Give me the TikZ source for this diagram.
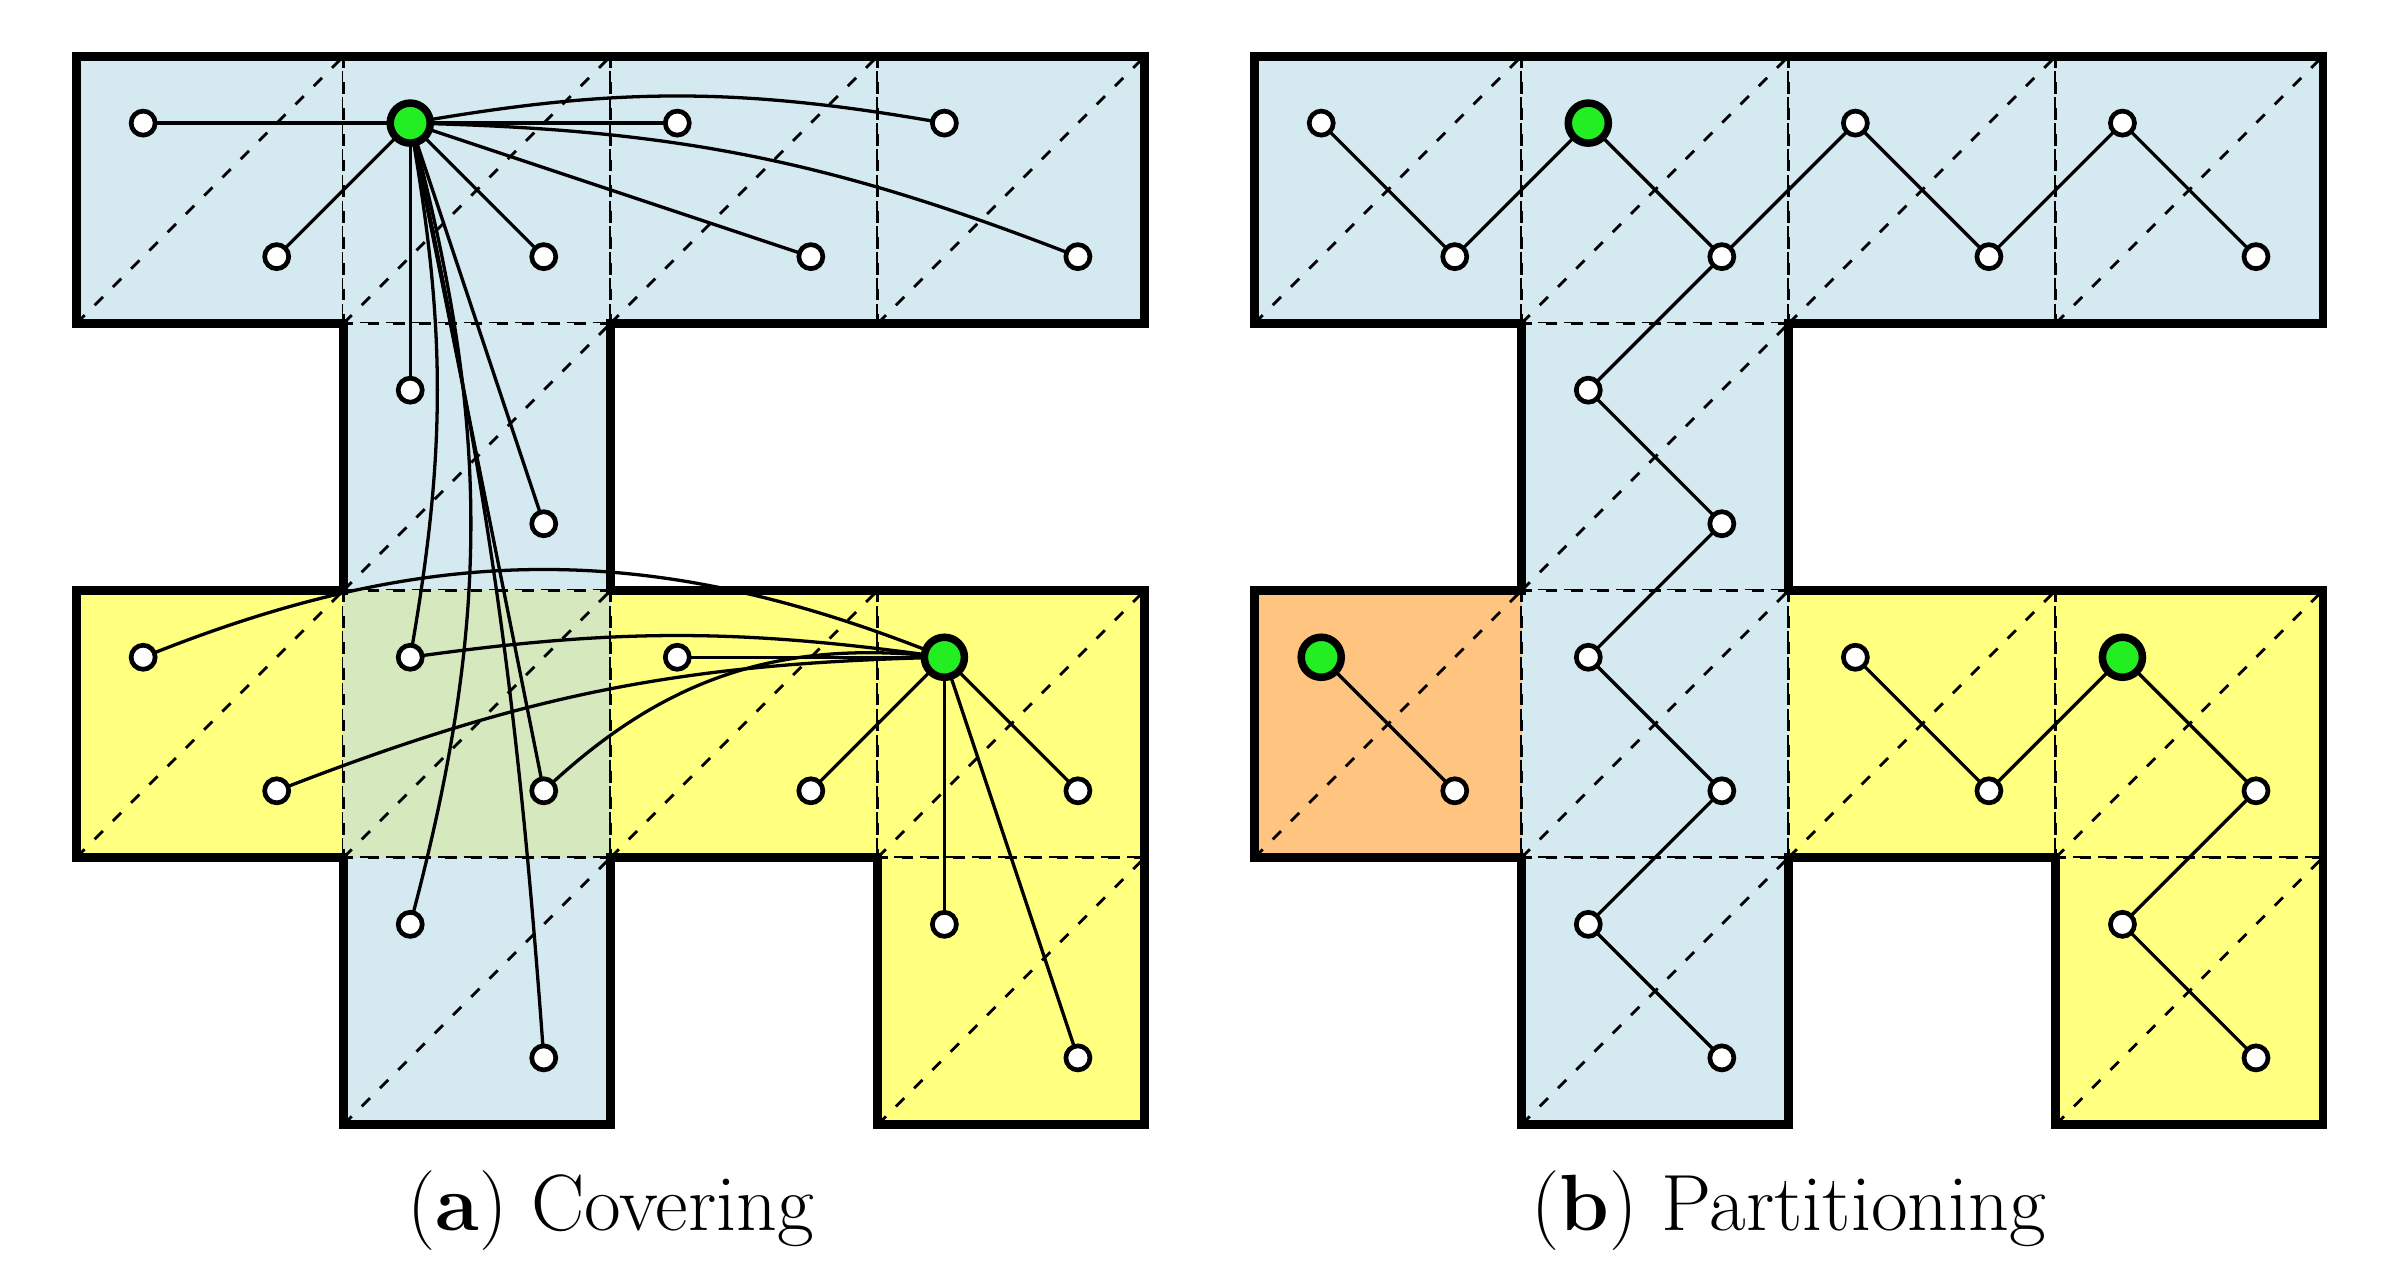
\documentclass[tikz,border=0pt]{standalone}
\usepackage{fontspec}
\begin{document}
\definecolor{cblue}{HTML}{D5EAF0}
\definecolor{cyel}{HTML}{FFFF80}
\definecolor{cmix}{HTML}{D5E8BE}
\definecolor{corg}{HTML}{FFC47F}
\definecolor{cgreen}{HTML}{22EE22}
\begin{tikzpicture}[x=2cm,y=2cm,
  cell/.style={draw=black,dash pattern=on 2.5pt off 3pt,line width=0.6pt},
  outline/.style={draw=black,line width=1.8pt,line join=miter},
  dot/.style={circle,draw=black,fill=white,line width=1pt,inner sep=0pt,minimum size=0.18cm},
  src/.style={circle,draw=black,fill=cgreen,line width=1.6pt,inner sep=0pt,minimum size=0.3cm},
  edge/.style={line width=0.7pt},
  captxt/.style={font=\fontsize{17}{20}\selectfont}]
\useasboundingbox (-0.286,0.211) rectangle (8.674,-4.584);
% cells: #1 x offset, #2 col, #3 row, #4 colour
\newcommand{\gcell}[4]{%
  \fill[#4] (#1+#2,-#3) rectangle (#1+#2+1,-#3-1);
  \draw[cell] (#1+#2,-#3) rectangle (#1+#2+1,-#3-1);
  \draw[cell] (#1+#2,-#3-1) -- (#1+#2+1,-#3);}
\newcommand{\outl}[1]{%
  \draw[outline,shift={(#1,0)}] (0,0)--(4,0)--(4,-1)--(2,-1)--(2,-2)--(4,-2)--(4,-4)--(3,-4)--(3,-3)--(2,-3)--(2,-4)--(1,-4)--(1,-3)--(0,-3)--(0,-2)--(1,-2)--(1,-1)--(0,-1)--cycle;}
% ---- (a) covering
\foreach \c/\r/\k in {0/0/cblue,1/0/cblue,2/0/cblue,3/0/cblue,1/1/cblue,0/2/cyel,1/2/cmix,2/2/cyel,3/2/cyel,1/3/cblue,3/3/cyel}
  {\gcell{0}{\c}{\r}{\k}}
\outl{0}
% ---- (b) partitioning
\foreach \c/\r/\k in {0/0/cblue,1/0/cblue,2/0/cblue,3/0/cblue,1/1/cblue,0/2/corg,1/2/cblue,2/2/cyel,3/2/cyel,1/3/cblue,3/3/cyel}
  {\gcell{4.411}{\c}{\r}{\k}}
\outl{4.411}
% coordinates of dots
\foreach \c/\r in {0/0,1/0,2/0,3/0,1/1,0/2,1/2,2/2,3/2,1/3,3/3}{
  \coordinate (a\c\r A) at (\c+0.25,-\r-0.25);
  \coordinate (a\c\r B) at (\c+0.75,-\r-0.75);
  \coordinate (b\c\r A) at (4.411+\c+0.25,-\r-0.25);
  \coordinate (b\c\r B) at (4.411+\c+0.75,-\r-0.75);}
% (a) edges
\foreach \t in {a00A,a00B,a10B,a20A,a20B,a11A,a11B,a12B}
  \draw[edge] (a10A) -- (\t);
\draw[edge] (a10A) to[bend left=10] (a30A);
\draw[edge] (a10A) to[bend left=10] (a30B);
\draw[edge] (a10A) to[bend left=10] (a12A);
\draw[edge] (a10A) to[bend left=15] (a13A);
\draw[edge] (a10A) to[bend left=4] (a13B);
\foreach \t in {a22A,a22B,a32B,a33A,a33B}
  \draw[edge] (a32A) -- (\t);
\draw[edge] (a32A) to[bend right=22] (a02A);
\draw[edge] (a32A) to[bend right=10] (a02B);
\draw[edge] (a32A) to[bend right=8] (a12A);
\draw[edge] (a32A) to[bend right=25] (a12B);
% (b) edges
\draw[edge] (b00A)--(b00B)--(b10A)--(b10B)--(b20A)--(b20B)--(b30A)--(b30B);
\draw[edge] (b10B)--(b11A)--(b11B)--(b12A)--(b12B)--(b13A)--(b13B);
\draw[edge] (b02A)--(b02B);
\draw[edge] (b22A)--(b22B)--(b32A)--(b32B)--(b33A)--(b33B);
% dots
\foreach \p in {a,b}{
  \foreach \c/\r in {0/0,1/0,2/0,3/0,1/1,0/2,1/2,2/2,3/2,1/3,3/3}{
    \node[dot] (n\p\c\r A) at (\p\c\r A) {};
    \node[dot] (n\p\c\r B) at (\p\c\r B) {};}}
\foreach \g in {a10A,a32A,b10A,b02A,b32A}
  \node[src] (g\g) at (\g) {};
% captions
\node[captxt] (capa) at (2,-4.32) {(\textbf{a}) Covering};
\node[captxt] (capb) at (6.411,-4.32) {(\textbf{b}) Partitioning};
\end{tikzpicture}
\end{document}
